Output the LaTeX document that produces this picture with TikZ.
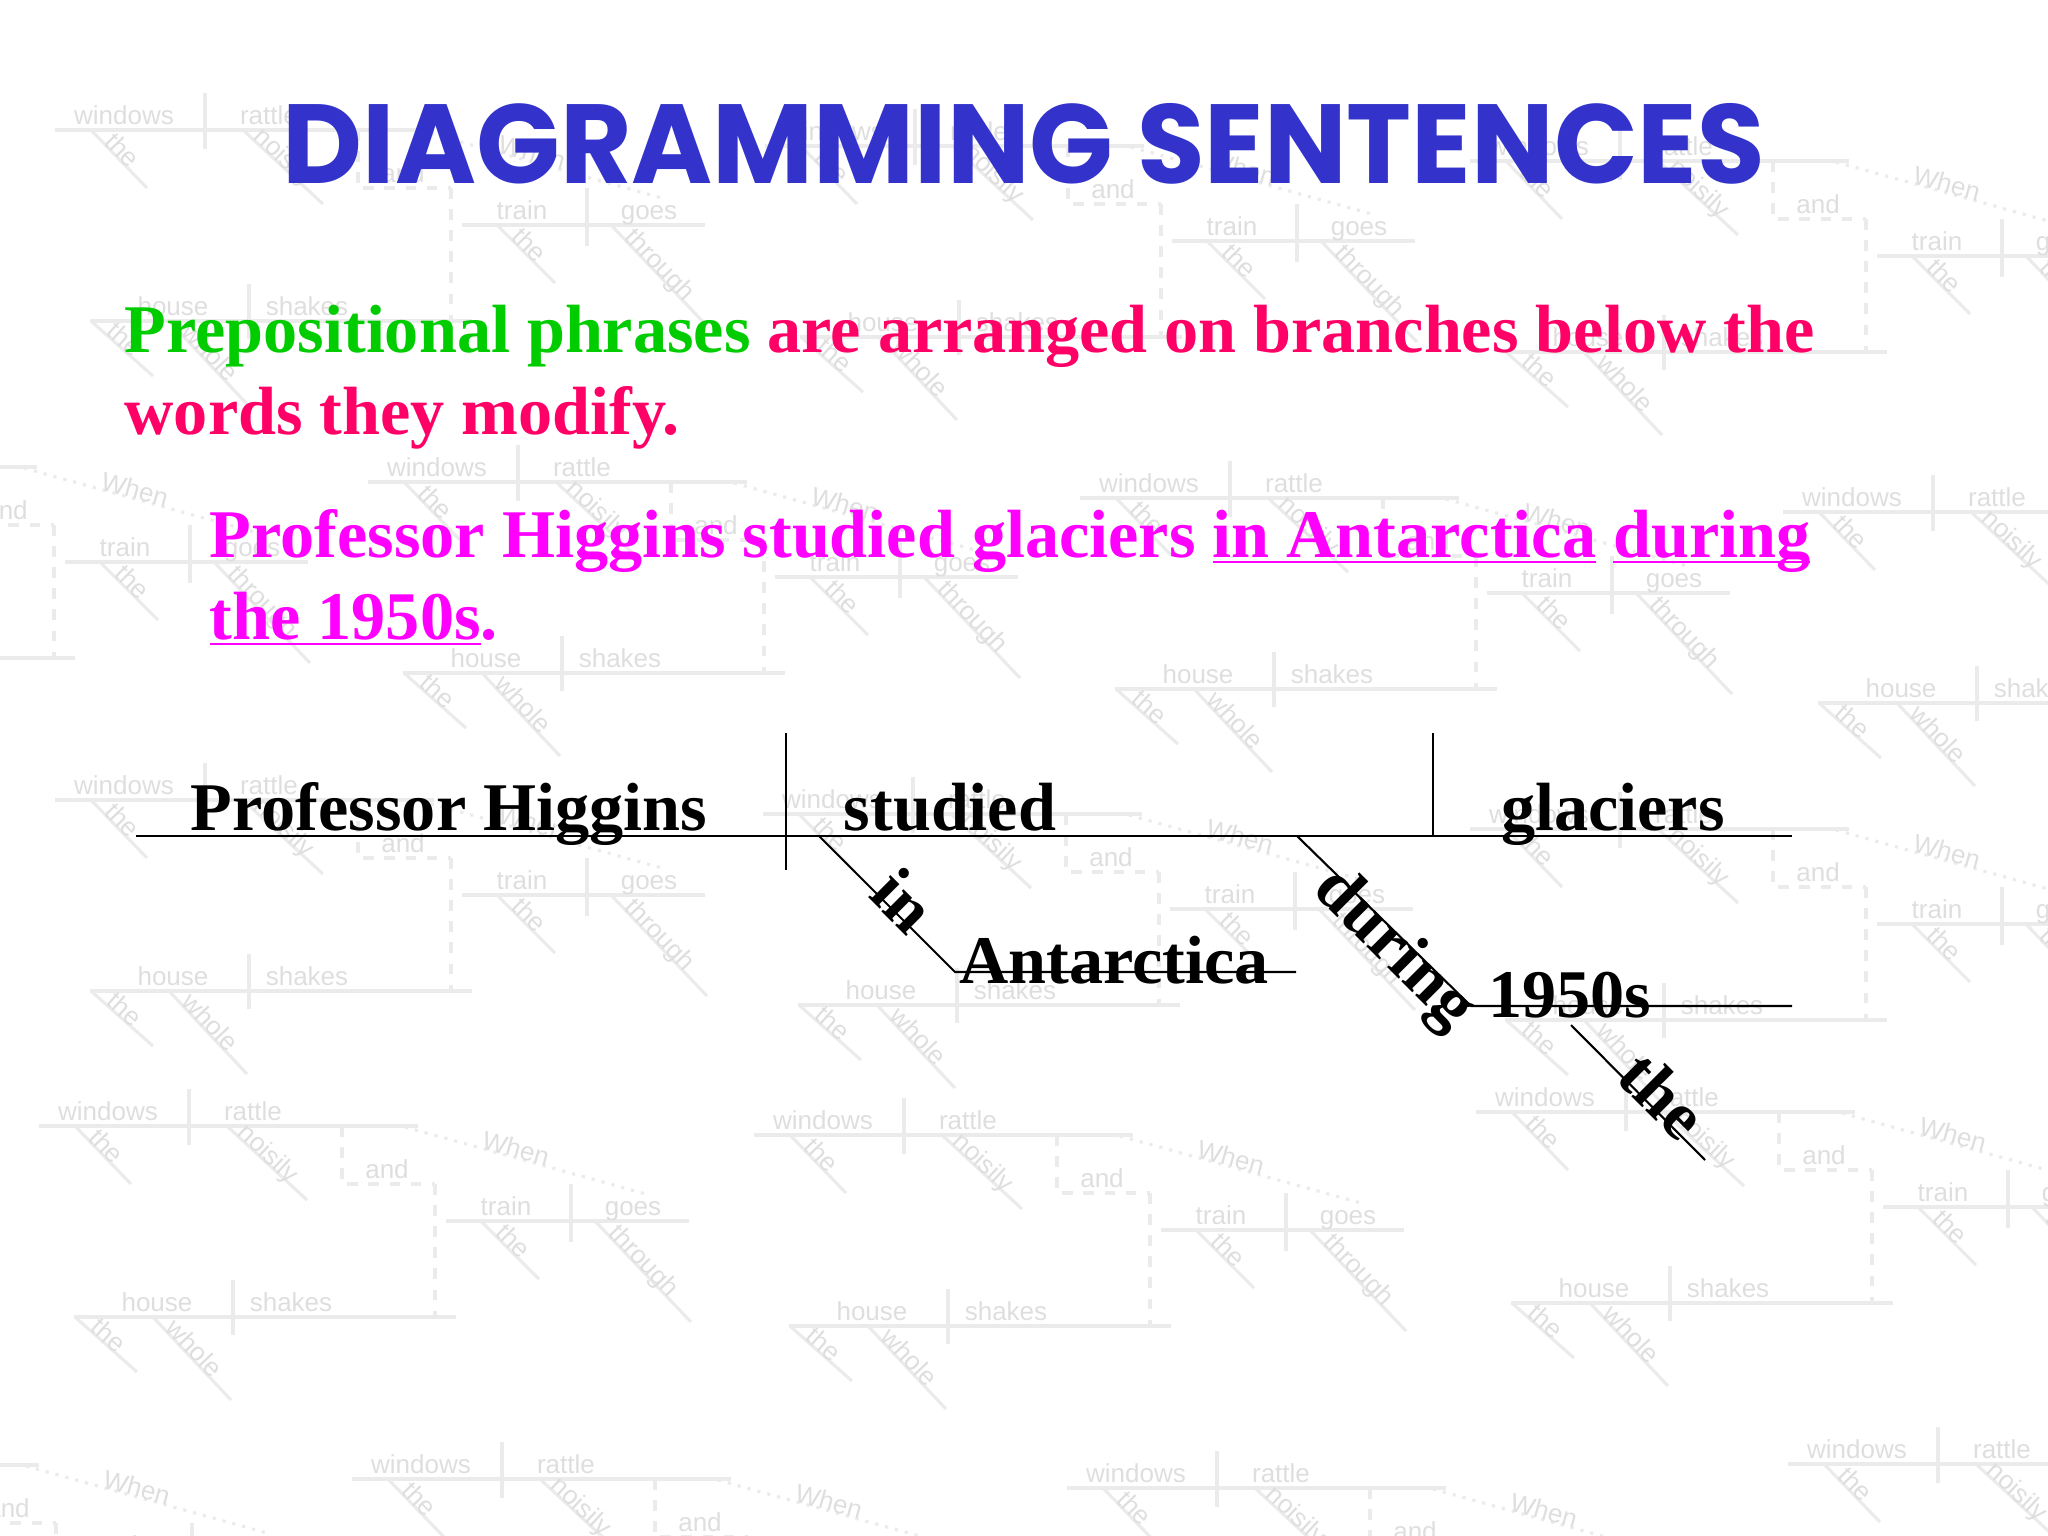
\documentclass[tikz,border=0pt]{standalone}
\usepackage{fontspec}
\setmainfont{Liberation Serif}
\newfontfamily\titlefont{Poppins}
\newfontfamily\bgfont{Liberation Sans}
\newcommand\undl[1]{\underline{\raisebox{0pt}[\height][0pt]{#1}}}
\definecolor{titleblue}{RGB}{51,51,204}
\definecolor{phrasegreen}{RGB}{0,204,0}
\definecolor{rulered}{RGB}{255,0,102}
\definecolor{sentmagenta}{RGB}{255,0,255}
\tikzset{
  bgtile/.pic={
    \draw[bgline] (0,0) -- (379,0);
    \draw[bgline] (150,-37) -- (150,19);
    \node[bgword] (-win) at (69,-6) {windows};
    \node[bgword] (-rat) at (214,-6) {rattle};
    \draw[bgline] (36,0) -- node[bgslant] (-the1) {the} (92,58);
    \draw[bgline] (188,0) -- node[bgslant] (-noi) {noisily} (268,74);
    \draw[bgline, dashed] (303,0) -- (303,58) -- (396,58);
    \node[bgword] (-and) at (348,52) {and};
    \draw[bgline, dashed] (396,58) -- (396,191);
    \draw[bgline] (35,191) -- (417,191);
    \draw[bgline] (194,154) -- (194,209);
    \node[bgword] (-hou) at (118,185) {house};
    \node[bgword] (-sha) at (252,185) {shakes};
    \draw[bgline] (36,191) -- node[bgslant] (-the2) {the} (98,246);
    \draw[bgline] (114,191) -- node[bgslant] (-who) {whole} (192,274);
    \draw[bgline, dotted] (366,1) -- node[bgslant] (-whe) {When} (607,68);
    \draw[bgline] (407,95) -- (650,95);
    \draw[bgline] (532,58) -- (532,116);
    \node[bgword] (-tra) at (467,89) {train};
    \node[bgword] (-goe) at (594,89) {goes};
    \draw[bgline] (442,95) -- node[bgslant] (-the3) {the} (500,153);
    \draw[bgline] (556,95) -- node[bgslant] (-thr) {through} (652,196);
  }
}
\begin{document}
\begin{tikzpicture}
[x=0.01cm, y=-0.01cm,
 word/.style={font=\bfseries\fontsize{19.4}{23}\selectfont, inner sep=0pt},
 tilted/.style={word, rotate=-45},
 diag/.style={line width=0.6pt},
 bgline/.style={draw=black!8, line width=0.9pt},
 bgword/.style={text=black!13, font=\bgfont\fontsize{7.4}{8}\selectfont, inner sep=0pt, anchor=base},
 bgslant/.style={bgword, sloped, pos=0.45}]
\useasboundingbox (0,0) rectangle (2048,1536);

% faint diagrams behind the slide
\begin{scope}
\clip (0,0) rectangle (2048,1536);
\foreach \ox/\oy [count=\n] in {55/130, 765/146, 1470/161, -342/467, 368/482, 1080/498, 1783/512,
    55/800, 763/814, 1470/829, 39/1126, 754/1135, 1476/1112, -340/1465, 352/1479, 1067/1488, 1788/1464}
  \pic (bg\n) at (\ox,\oy) {bgtile};
\end{scope}

\node[inner sep=0pt, text=titleblue] (title) at (1024,144)
  {\resizebox{14.81cm}{0.80cm}{\titlefont\bfseries DIAGRAMMING SENTENCES}};

\node[word, anchor=base west, text=rulered] (rule1) at (124,352)
  {\textcolor{phrasegreen}{Prepositional phrases} are arranged on branches below the};
\node[word, anchor=base west, text=rulered] (rule2) at (124,434) {words they modify.};
\node[word, anchor=base west, text=sentmagenta] (sent1) at (209,557)
  {Professor Higgins studied glaciers \undl{in Antarctica} \undl{during}};
\node[word, anchor=base west, text=sentmagenta] (sent2) at (209,639) {\undl{the 1950s}.};

% the diagram
\coordinate (baseL) at (136,836);
\coordinate (baseR) at (1792,836);
\coordinate (cutTop) at (786,733);
\coordinate (cutBot) at (786,870);
\coordinate (objTop) at (1433,733);
\coordinate (objBot) at (1433,836);
\coordinate (inTop) at (819,836);
\coordinate (inBot) at (955,972);
\coordinate (antEnd) at (1296,972);
\coordinate (durTop) at (1297,836);
\coordinate (durBot) at (1471,1006);
\coordinate (decEnd) at (1792,1006);
\coordinate (theTop) at (1571,1025);
\coordinate (theBot) at (1705,1160);

\draw[diag] (baseL) -- (baseR);
\draw[diag] (cutTop) -- (cutBot);
\draw[diag] (objTop) -- (objBot);
\draw[diag] (inTop) -- (inBot) -- (antEnd);
\draw[diag] (durTop) -- (durBot) -- (decEnd);
\draw[diag] (theTop) -- (theBot);

\node[word, anchor=base] (subj) at (449,830) {Professor Higgins};
\node[word, anchor=base] (verb) at (950,830) {studied};
\node[word, anchor=base] (obj) at (1613,830) {glaciers};
\node[word, anchor=base] (ant) at (1114,983) {Antarctica};
\node[word, anchor=base] (decade) at (1570,1017) {1950s};
\node[tilted] (in) at (904,900) {in};
\node[tilted] (during) at (1393,950) {during};
\node[tilted] (the) at (1663,1095) {the};
\end{tikzpicture}
\end{document}
